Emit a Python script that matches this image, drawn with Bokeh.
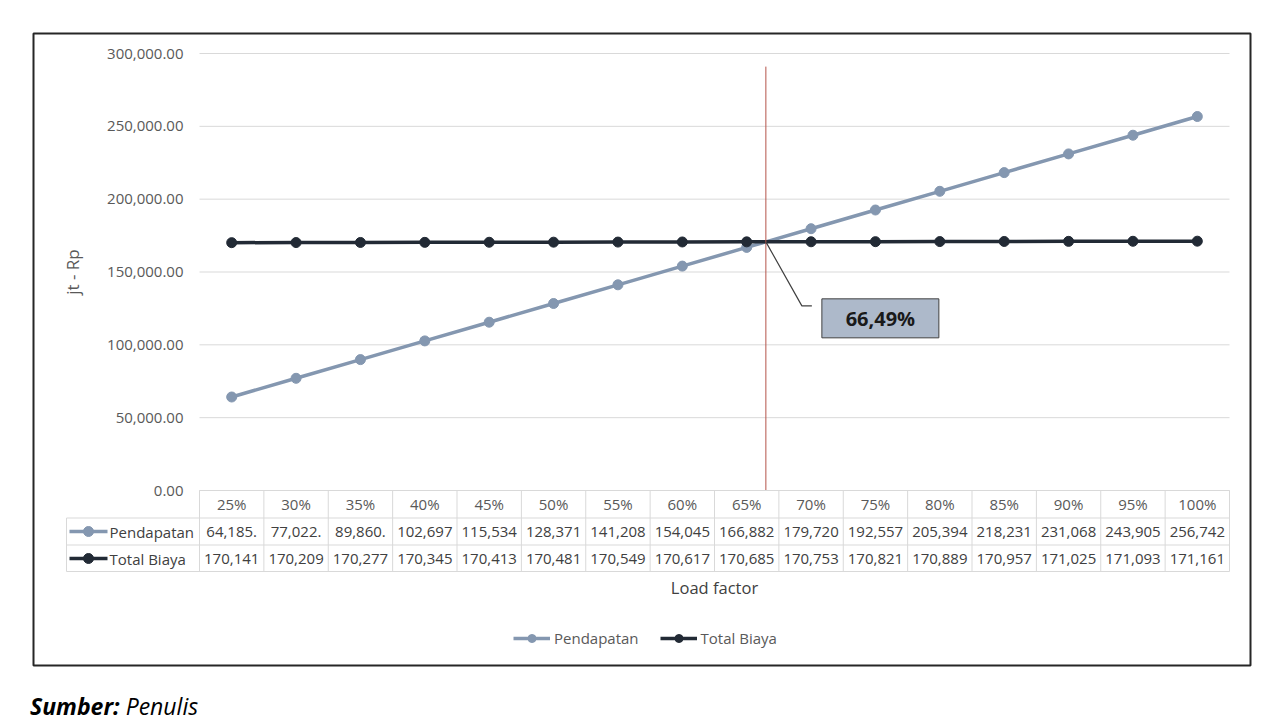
import numpy as np
from bokeh.plotting import figure
from bokeh.models import (Range1d, LinearAxis, FixedTicker, NumeralTickFormatter,
                          Legend, LegendItem, Div, ColumnDataSource)
from bokeh.layouts import column
from bokeh.embed import file_html
from bokeh.resources import INLINE
from bokeh.core.properties import value

# ---------------- data ----------------
categories = ["25%", "30%", "35%", "40%", "45%", "50%", "55%", "60%",
              "65%", "70%", "75%", "80%", "85%", "90%", "95%", "100%"]
pendapatan = [64185, 77022, 89860, 102697, 115534, 128371, 141208, 154045,
              166882, 179720, 192557, 205394, 218231, 231068, 243905, 256742]
total_biaya = [170141, 170209, 170277, 170345, 170413, 170481, 170549, 170617,
               170685, 170753, 170821, 170889, 170957, 171025, 171093, 171161]
series_names = ["Pendapatan", "Total Biaya"]
y_ticks = [0, 50000, 100000, 150000, 200000, 250000, 300000]
breakeven_pct = 66.49
x_title = "Load factor"
y_title = "jt - Rp"
source_note = ("Sumber:", "Penulis")

# ---------------- styles ----------------
FONT = "Open Sans"
C_PEND = "#8497b0"
C_TB = "#222a35"
C_GRID = "#d9d9d9"
C_TXT = "#595959"
C_TBL = "#404040"

# page-pixel layout helpers (canvas starts at page (0,0))
ORIGIN = 0
PX_LEFT, PX_RIGHT = 199.0, 1229.0     # plot-area left/right on page
PY_ZERO, PY_TOP = 490.0, 53.0         # y of 0 and of top tick on page
n = len(categories)
UX = (PX_RIGHT - PX_LEFT) / n
UY = y_ticks[-1] / (PY_ZERO - PY_TOP)


def dx(px):
    return -0.5 + (px - PX_LEFT) / UX


def dy(py):
    return (PY_ZERO - py) * UY


BOX_L, BOX_R, BOX_T, BOX_B = 33, 1250, 33, 665

p = figure(width=(BOX_L - ORIGIN) + (BOX_R - BOX_L) + 2,
           height=(BOX_T - ORIGIN) + (BOX_B - BOX_T) + 2,
           x_range=Range1d(dx(BOX_L), dx(BOX_R)),
           y_range=Range1d(dy(BOX_B), dy(BOX_T)),
           x_axis_type=None, y_axis_type=None,
           output_backend="svg", toolbar_location=None,
           min_border_left=BOX_L - ORIGIN, min_border_top=BOX_T - ORIGIN,
           min_border_right=2, min_border_bottom=2,
           outline_line_color="#262626", outline_line_width=2,
           background_fill_color="white", border_fill_color="white")

idx = list(range(n))
x_lo, x_hi = -0.5, n - 0.5

# grid lines
p.segment(x0=[x_lo] * len(y_ticks), x1=[x_hi] * len(y_ticks), y0=y_ticks, y1=y_ticks,
          line_color=C_GRID, line_width=1)

# y axis at plot-area left edge
yaxis = LinearAxis(fixed_location=x_lo, ticker=FixedTicker(ticks=y_ticks),
                   formatter=NumeralTickFormatter(format="0,0.00"),
                   bounds=(y_ticks[0], y_ticks[-1]),
                   axis_line_color=None, major_tick_line_color=None,
                   minor_tick_line_color=None, major_tick_out=0, major_tick_in=0,
                   minor_tick_out=0, minor_tick_in=0, major_label_standoff=16,
                   major_label_text_font=FONT, major_label_text_font_size="15px",
                   major_label_text_color=C_TXT,
                   axis_label=y_title, axis_label_standoff=20,
                   axis_label_text_font=FONT, axis_label_text_font_size="17px",
                   axis_label_text_font_style="normal", axis_label_text_color=C_TXT)
p.add_layout(yaxis, "left")

# x axis (table header row)
xaxis = LinearAxis(fixed_location=0, ticker=FixedTicker(ticks=idx),
                   major_label_overrides={i: c for i, c in enumerate(categories)},
                   bounds=(x_lo, x_hi), axis_line_color=C_GRID, axis_line_width=1,
                   major_tick_line_color=None, minor_tick_line_color=None,
                   major_tick_out=0, major_tick_in=0, minor_tick_out=0, minor_tick_in=0,
                   major_label_standoff=3,
                   major_label_text_font=FONT, major_label_text_font_size="15px",
                   major_label_text_color=C_TXT,
                   axis_label=x_title, axis_label_standoff=59,
                   axis_label_text_font=FONT, axis_label_text_font_size="16.5px",
                   axis_label_text_font_style="normal", axis_label_text_color=C_TBL)
p.add_layout(xaxis, "below")

# ---------------- data table ----------------
ROW_Y = [517.5, 544.5, 571.0]   # row boundaries (page px)
ROW_C = [531.0, 558.0]          # row text centres
TBL_L = 66.0
vx = [x_lo + k for k in range(n + 1)]
p.segment(x0=vx, x1=vx, y0=[0] * len(vx), y1=[dy(ROW_Y[-1])] * len(vx),
          line_color=C_GRID, line_width=1)
p.segment(x0=[dx(TBL_L)], x1=[dx(TBL_L)], y0=[dy(ROW_Y[0])], y1=[dy(ROW_Y[-1])],
          line_color=C_GRID, line_width=1)
p.segment(x0=[dx(TBL_L)] * 3, x1=[x_hi] * 3, y0=[dy(r) for r in ROW_Y],
          y1=[dy(r) for r in ROW_Y], line_color=C_GRID, line_width=1)


def fmt(v):
    s = f"{v:,}"
    return s + "." if v < 100000 else s


for row, vals in enumerate([pendapatan, total_biaya]):
    p.text(x=idx, y=[dy(ROW_C[row])] * n, text=[fmt(v) for v in vals],
           text_align="center", text_baseline="middle",
           text_font=value(FONT), text_font_size="15px", text_color=C_TBL)

for row, (name, col) in enumerate(zip(series_names, [C_PEND, C_TB])):
    yy = dy(ROW_C[row])
    p.segment(x0=[dx(69)], x1=[dx(107)], y0=[yy], y1=[yy], line_color=col, line_width=3.5)
    p.scatter(x=[dx(88)], y=[yy], size=10, marker="circle", fill_color=col, line_color=col)
    p.text(x=[dx(109)], y=[yy], text=[name], text_align="left", text_baseline="middle",
           text_font=value(FONT), text_font_size="15px", text_color=C_TBL)

# ---------------- series ----------------
src = ColumnDataSource(dict(x=idx, pend=pendapatan, tb=total_biaya))
r1 = p.line("x", "pend", source=src, line_color=C_PEND, line_width=3.5)
s1 = p.scatter("x", "pend", source=src, size=10, marker="circle",
               fill_color=C_PEND, line_color=C_PEND)
r2 = p.line("x", "tb", source=src, line_color=C_TB, line_width=3.5)
s2 = p.scatter("x", "tb", source=src, size=10, marker="circle",
               fill_color=C_TB, line_color=C_TB)

# ---------------- breakeven annotation ----------------
cat_vals = [float(c.rstrip("%")) for c in categories]
be_x = float(np.interp(breakeven_pct, cat_vals, idx))
be_y = float(np.interp(be_x, idx, pendapatan))
p.segment(x0=[be_x], x1=[be_x], y0=[0], y1=[y_ticks[-1] * 0.97],
          line_color="#b5534a", line_width=1)

be_px = PX_LEFT + (be_x + 0.5) * UX
be_py = PY_ZERO - be_y / UY
p.line(x=[be_x, dx(be_px + 36), dx(be_px + 46)],
       y=[be_y, dy(be_py + 64), dy(be_py + 64)], line_color="#404040", line_width=1.2)
p.quad(left=[dx(be_px + 56)], right=[dx(be_px + 173)],
       top=[dy(be_py + 57)], bottom=[dy(be_py + 96)],
       fill_color="#adb9ca", line_color="#404040", line_width=1)
p.text(x=[dx(be_px + 114.5)], y=[dy(be_py + 77)],
       text=[f"{breakeven_pct:.2f}%".replace(".", ",")],
       text_align="center", text_baseline="middle", text_font=value(FONT),
       text_font_size="20px", text_font_style="bold", text_color="#1a1a1a")

# ---------------- legend ----------------
legend = Legend(items=[LegendItem(label=series_names[0], renderers=[r1, s1]),
                       LegendItem(label=series_names[1], renderers=[r2, s2])],
                orientation="horizontal", location=(480, 17),
                glyph_width=37, glyph_height=20, label_standoff=4, spacing=21,
                padding=0, margin=0, border_line_color=None,
                background_fill_alpha=0, label_text_font=FONT,
                label_text_font_size="15px", label_text_color=C_TXT)
p.add_layout(legend)

note = Div(text=f"<b><i>{source_note[0]}</i></b> <i>{source_note[1]}</i>",
           width=400, height=50,
           styles={"font-family": FONT, "font-size": "23px", "color": "#000",
                   "padding-left": "25px", "padding-top": "23px",
                   "line-height": "1"})

layout = column(p, note)
open("out.html", "w").write(file_html(layout, INLINE))
